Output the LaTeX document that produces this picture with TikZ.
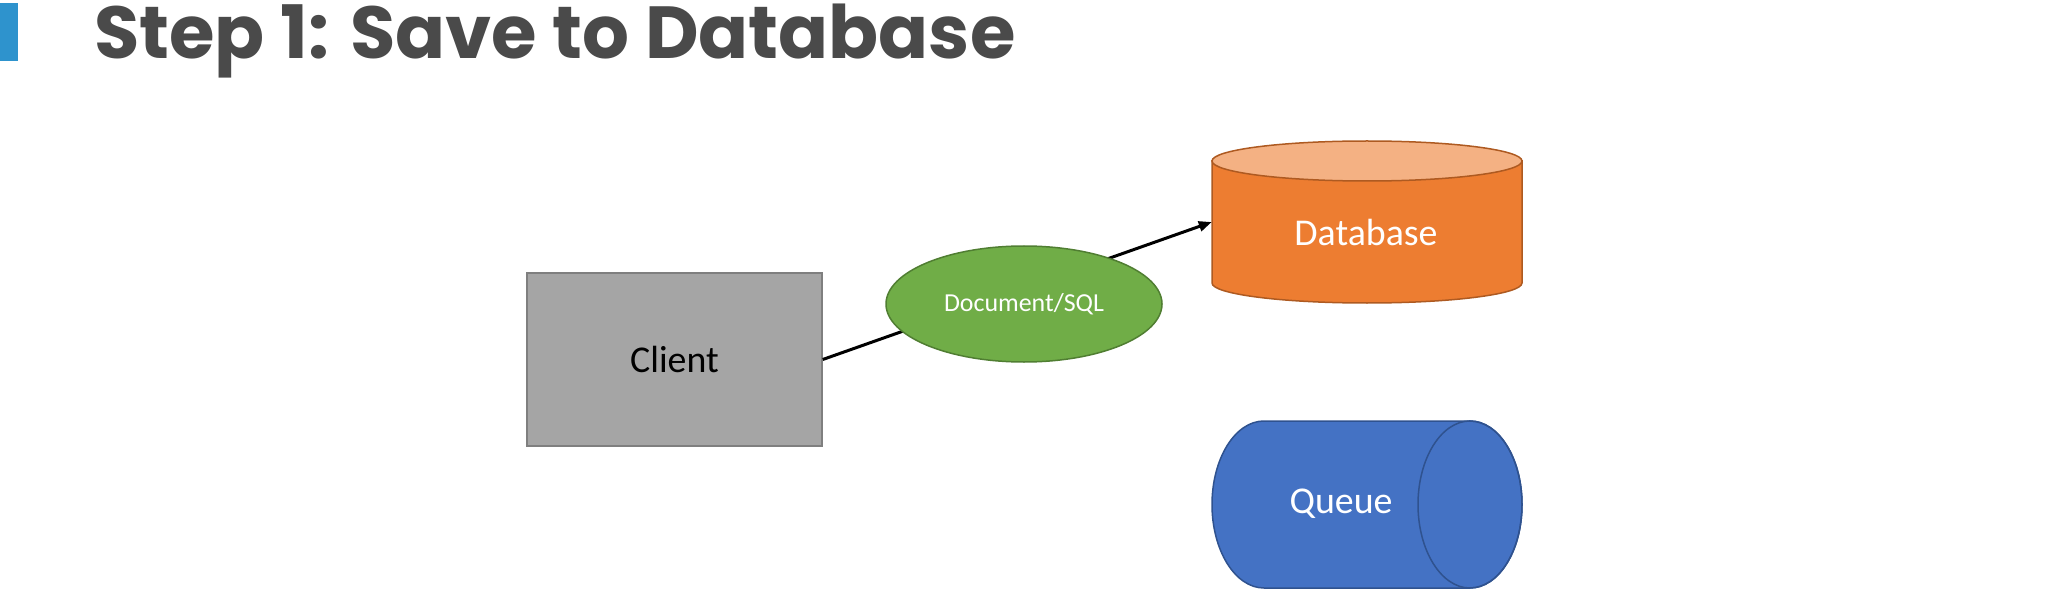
\documentclass[tikz,border=0pt]{standalone}
\usepackage{fontspec}
\setmainfont{Carlito}
\newfontfamily\titlefont{Poppins}
\usetikzlibrary{arrows.meta,shapes.geometric}
\definecolor{barblue}{HTML}{2E93CD}
\definecolor{titlegray}{HTML}{4A4A4A}
\definecolor{clientfill}{HTML}{A5A5A5}
\definecolor{clientline}{HTML}{7F7F7F}
\definecolor{greenfill}{HTML}{70AD47}
\definecolor{greenline}{HTML}{507E32}
\definecolor{dbfill}{HTML}{ED7D31}
\definecolor{dbtop}{HTML}{F4B183}
\definecolor{dbline}{HTML}{AE5A21}
\definecolor{qfill}{HTML}{4472C4}
\definecolor{qline}{HTML}{2F528F}
\tikzset{
  clientbox/.style={draw=clientline, fill=clientfill, line width=1.5bp, inner sep=0,
    minimum width=295bp, minimum height=173bp, font=\fontsize{38}{44}\selectfont},
  whitelabel/.style={text=white, inner sep=0, font=\fontsize{38}{44}\selectfont},
  docellipse/.style={ellipse, draw=greenline, fill=greenfill, line width=1.5bp, inner sep=0,
    minimum width=276bp, minimum height=116bp, text=white, font=\fontsize{26}{30}\selectfont},
  flow/.style={-{Triangle[length=13bp,width=10bp]}, line width=3bp, black},
  anchorbox/.style={inner sep=0, minimum width=310bp, minimum height=122bp},
}
\begin{document}
\begin{tikzpicture}[x=1bp,y=-1bp]
\useasboundingbox (0,0) rectangle (2048,605);
% title
\fill[barblue] (0,3) rectangle (18,61);
\node[anchor=base west, inner sep=0, text=titlegray, font=\titlefont\bfseries\fontsize{74}{84}\selectfont] (title) at (94,59) {Step 1: Save to Database};
% client
\node[clientbox] (client) at (674.5,359.5) {Client};
% database cylinder
\filldraw[fill=dbfill, draw=dbline, line width=1.5bp] (1212,161) -- (1212,283)
  arc[start angle=180, end angle=360, x radius=155bp, y radius=20bp] -- (1522,161) -- cycle;
\filldraw[fill=dbtop, draw=dbline, line width=1.5bp] (1367,161) ellipse [x radius=155bp, y radius=20bp];
\node[anchorbox] (db) at (1367,222) {};
\node[whitelabel] (dblabel) at (1366,232) {Database};
% queue cylinder
\filldraw[fill=qfill, draw=qline, line width=1.5bp] (1470,421) -- (1264,421)
  arc[start angle=90, end angle=270, x radius=52bp, y radius=83.5bp] -- (1470,588)
  arc[start angle=270, end angle=450, x radius=52bp, y radius=83.5bp] -- cycle;
\draw[qline, line width=1.5bp] (1470,504.5) ellipse [x radius=52bp, y radius=83.5bp];
\node[whitelabel] (queue) at (1341,504) {Queue};
% connector
\draw[flow] (client.east) -- (db.west);
\node[docellipse] (doc) at (1024,304) {Document/SQL};
\end{tikzpicture}
\end{document}
